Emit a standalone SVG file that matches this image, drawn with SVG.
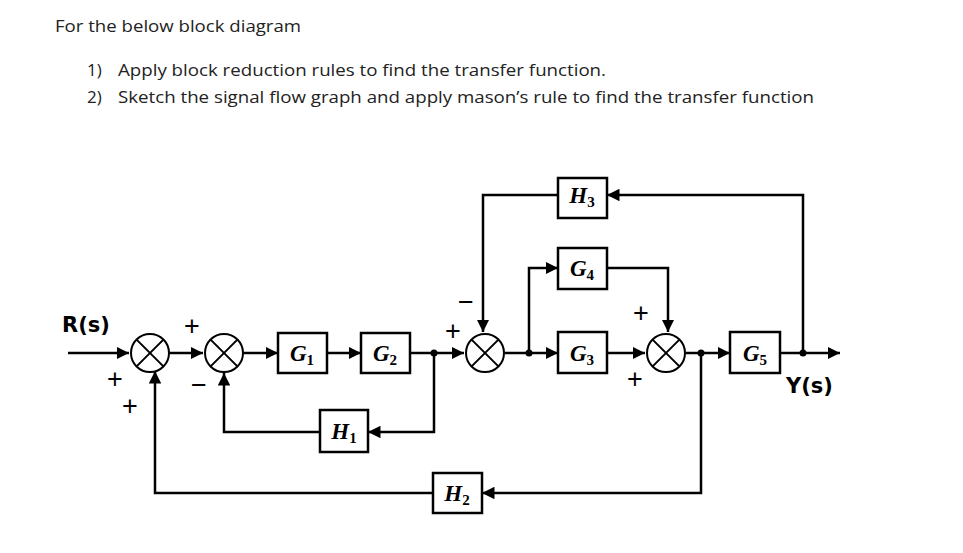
<svg xmlns="http://www.w3.org/2000/svg" width="963" height="553" viewBox="0 0 963 553">
<style>
.hd{font-family:"Open Sans","Liberation Sans",Arial,sans-serif;font-size:17px;fill:#222}
.bx{fill:#fff;stroke:#000;stroke-width:2.5}
.sj{fill:#fff;stroke:#000;stroke-width:2}
.ln{fill:none;stroke:#000;stroke-width:2.5}
.lb{font-family:"Liberation Serif",serif;font-style:italic;font-weight:bold;font-size:23px;text-anchor:middle}
.sb{font-size:15px;font-style:normal}
.sg{font-family:"Liberation Sans",Arial,sans-serif;font-size:27px;text-anchor:middle}
.io{font-family:"DejaVu Sans",sans-serif;font-weight:bold;font-size:21px}
</style>
<defs>
<marker id="a" viewBox="0 0 10 10" refX="10" refY="5" markerWidth="5" markerHeight="5" orient="auto" markerUnits="strokeWidth"><path d="M0,0L10,5L0,10z"/></marker>
<symbol id="s" viewBox="-21 -21 42 42" overflow="visible"><circle r="19" class="sj"/><path d="M-13.4,-13.4L13.4,13.4M-13.4,13.4L13.4,-13.4" stroke="#000" stroke-width="2"/></symbol>
</defs>
<rect width="963" height="553" fill="#fff"/>
<text class="hd" x="55" y="32" textLength="246" lengthAdjust="spacingAndGlyphs">For the below block diagram</text>
<text class="hd" x="87" y="76">1)</text>
<text class="hd" x="118" y="76" textLength="488" lengthAdjust="spacingAndGlyphs">Apply block reduction rules to find the transfer function.</text>
<text class="hd" x="87" y="103">2)</text>
<text class="hd" x="118" y="103" textLength="696" lengthAdjust="spacingAndGlyphs">Sketch the signal flow graph and apply mason’s rule to find the transfer function</text>
<g id="connectors">
<path class="ln" d="M68,353H129" marker-end="url(#a)"/>
<path class="ln" d="M169,353H203" marker-end="url(#a)"/>
<path class="ln" d="M243,353H278" marker-end="url(#a)"/>
<path class="ln" d="M327,353H361" marker-end="url(#a)"/>
<path class="ln" d="M410,353H464" marker-end="url(#a)"/>
<path class="ln" d="M505,353H558" marker-end="url(#a)"/>
<path class="ln" d="M607,353H645" marker-end="url(#a)"/>
<path class="ln" d="M686,353H730" marker-end="url(#a)"/>
<path class="ln" d="M780,353H840" marker-end="url(#a)"/>
<path class="ln" d="M434,353V432H368" marker-end="url(#a)"/>
<path class="ln" d="M320,432H224V373" marker-end="url(#a)"/>
<path class="ln" d="M701,353V493H482" marker-end="url(#a)"/>
<path class="ln" d="M433,493H155V371" marker-end="url(#a)"/>
<path class="ln" d="M803,353V195H607" marker-end="url(#a)"/>
<path class="ln" d="M558,195H483V332" marker-end="url(#a)"/>
<path class="ln" d="M529,353V268H558" marker-end="url(#a)"/>
<path class="ln" d="M607,268H668V332" marker-end="url(#a)"/>
<circle cx="434" cy="353" r="3.5"/><circle cx="529" cy="353" r="3.5"/><circle cx="701" cy="353" r="3.5"/><circle cx="803" cy="353" r="3.5"/>
</g>
<g id="sum1"><use href="#s" x="129" y="332" width="42" height="42"/><text class="sg" x="115" y="388">+</text><text class="sg" x="130" y="415">+</text></g>
<g id="sum2"><use href="#s" x="203" y="332" width="42" height="42"/><text class="sg" x="192" y="335">+</text><text class="sg" x="199" y="394">−</text></g>
<g id="sum3"><use href="#s" x="464" y="332" width="42" height="42"/><text class="sg" x="453" y="340">+</text><text class="sg" x="466" y="311">−</text></g>
<g id="sum4"><use href="#s" x="645" y="332" width="42" height="42"/><text class="sg" x="641" y="322">+</text><text class="sg" x="635" y="388">+</text></g>
<g id="G1"><rect class="bx" x="278" y="333" width="49" height="40"/><text class="lb" x="302" y="361">G<tspan class="sb" dy="4">1</tspan></text></g>
<g id="G2"><rect class="bx" x="361" y="333" width="49" height="40"/><text class="lb" x="385" y="361">G<tspan class="sb" dy="4">2</tspan></text></g>
<g id="G3"><rect class="bx" x="558" y="332" width="49" height="41"/><text class="lb" x="582" y="361">G<tspan class="sb" dy="4">3</tspan></text></g>
<g id="G4"><rect class="bx" x="558" y="248" width="49" height="41"/><text class="lb" x="582" y="276">G<tspan class="sb" dy="4">4</tspan></text></g>
<g id="G5"><rect class="bx" x="730" y="332" width="50" height="41"/><text class="lb" x="755" y="361">G<tspan class="sb" dy="4">5</tspan></text></g>
<g id="H1"><rect class="bx" x="320" y="410" width="48" height="42"/><text class="lb" x="344" y="439">H<tspan class="sb" dy="4">1</tspan></text></g>
<g id="H2"><rect class="bx" x="433" y="473" width="49" height="40"/><text class="lb" x="457" y="501">H<tspan class="sb" dy="4">2</tspan></text></g>
<g id="H3"><rect class="bx" x="558" y="178" width="49" height="40"/><text class="lb" x="582" y="203">H<tspan class="sb" dy="4">3</tspan></text></g>
<text class="io" x="62" y="332">R(s)</text>
<text class="io" x="786" y="393">Y(s)</text>
</svg>
